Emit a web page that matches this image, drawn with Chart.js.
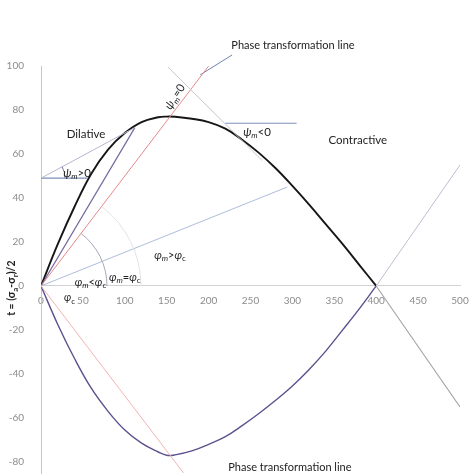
<!DOCTYPE html>
<html>
<head>
<meta charset="utf-8">
<script src="https://cdn.jsdelivr.net/npm/chart.js@4.4.1/dist/chart.umd.min.js"></script>
<style>
  html, body { margin: 0; padding: 0; background: #fff; }
</style>
</head>
<body>
<canvas id="chart" width="474" height="474"></canvas>
<script>
// stress path (upper = compression, lower = extension)
const CURVE_X = [0, 20, 40, 60, 80, 100, 120, 140, 150, 160, 180, 200, 220, 240, 260, 280, 300, 320, 340, 360, 380, 400];
const UPPER_T = [0, 19, 36, 51, 62, 69.5, 74.5, 76.7, 77, 76.9, 76, 74.5, 71.5, 66.5, 60.5, 53.5, 45.5, 37, 28, 19, 9.5, 0];
const LOWER_T = [0, -17.5, -33, -46.5, -57, -65.5, -71.5, -75.5, -77, -76.8, -75, -72, -68.5, -63.5, -58, -52, -45.5, -38, -29.5, -20, -10.3, 0];

// straight construction lines, [x, t] end points
const PTL_UPPER = [[0, 0], [200, 100]];
const PTL_LOWER = [[0, 0], [170, -85]];
const DILATIVE_CHORD = [[0, 0], [112, 72]];
const DILATIVE_TANGENT = [[0, 49], [112, 72]];
const DILATIVE_LEVEL = [[0, 49], [56, 49]];
const CONTRACTIVE_TANGENT = [[151.5, 99.5], [264, 57]];
const CONTRACTIVE_LEVEL = [[220, 74], [305, 74]];
const PHI_LINE = [[0, 0], [294, 45]];
const TAIL_UP = [[400, 0], [500, 55]];
const TAIL_DOWN = [[400, 0], [500, -55]];
const LEADER = [[228, 105], [190, 96]];

const X_TICKS = [0, 50, 100, 150, 200, 250, 300, 350, 400, 450, 500];
const Y_TICKS = [-80, -60, -40, -20, 0, 20, 40, 60, 80, 100];

const FAM = 'Lato, "Open Sans", sans-serif';

const pts = (arr) => arr.map(([x, y]) => ({ x, y }));
const curve = (ys) => CURVE_X.map((x, i) => ({ x, y: ys[i] }));

function seg(data, color, width, extra) {
  return Object.assign({ data: pts(data), showLine: true, pointRadius: 0, borderColor: color, borderWidth: width, fill: false }, extra || {});
}

// text with italic greek letters and subscripts
function drawRich(ctx, parts, x, y, size, color, rot, weight) {
  ctx.save();
  ctx.translate(x, y);
  ctx.rotate(rot || 0);
  const w = weight || 'normal';
  const fontFor = (k) => k === 'sub' ? `italic ${w} ${Math.round(size * 0.72)}px ${FAM}` :
    k === 'subr' ? `${w} ${Math.round(size * 0.72)}px ${FAM}` :
    k === 'it' ? `italic ${w} ${size}px ${FAM}` : `${w} ${size}px ${FAM}`;
  let total = 0;
  parts.forEach(([t, k]) => { ctx.font = fontFor(k); total += ctx.measureText(t).width; });
  let cx = -total / 2;
  ctx.fillStyle = color;
  ctx.textBaseline = 'middle';
  ctx.textAlign = 'left';
  parts.forEach(([t, k]) => {
    ctx.font = fontFor(k);
    ctx.fillText(t, cx, (k === 'sub' || k === 'subr') ? size * 0.3 : 0);
    cx += ctx.measureText(t).width;
  });
  ctx.restore();
}

const LABELS = [
  { at: [300.7, 109.5], parts: [['Phase transformation line', '']], size: 11 },
  { at: [297, -82.3], parts: [['Phase transformation line', '']], size: 11 },
  { at: [378, 66], parts: [['Contractive', '']], size: 11.5 },
  { at: [53.7, 69], parts: [['Dilative', '']], size: 11.5 },
  { at: [160, 86], parts: [['ψ', 'it'], ['m', 'sub'], ['=0', '']], size: 11.5, rot: -58 },
  { at: [43, 51.4], parts: [['ψ', 'it'], ['m', 'sub'], ['>0', '']], size: 11.5 },
  { at: [257.8, 70], parts: [['ψ', 'it'], ['m', 'sub'], ['<0', '']], size: 11.5 },
  { at: [154, 14], parts: [['φ', 'it'], ['m', 'sub'], ['>', ''], ['φ', 'it'], ['c', 'subr']], size: 11 },
  { at: [100, 4], parts: [['φ', 'it'], ['m', 'sub'], ['=', ''], ['φ', 'it'], ['c', 'subr']], size: 11 },
  { at: [59, 1.6], parts: [['φ', 'it'], ['m', 'sub'], ['<', ''], ['φ', 'it'], ['c', 'subr']], size: 11 },
  { at: [34, -5.5], parts: [['φ', 'it'], ['c', 'subr']], size: 10.5 },
];

function angleOf(line, xs, ys) {
  const x1 = xs.getPixelForValue(line[0][0]), y1 = ys.getPixelForValue(line[0][1]);
  const x2 = xs.getPixelForValue(line[1][0]), y2 = ys.getPixelForValue(line[1][1]);
  return Math.atan2(y1 - y2, x2 - x1);
}

const annotations = {
  id: 'annotations',
  afterDatasetsDraw(chart) {
    const { ctx, scales: { x: xs, y: ys } } = chart;
    const arc = (center, r, a, color, width) => {
      ctx.save();
      ctx.beginPath();
      ctx.strokeStyle = color;
      ctx.lineWidth = width;
      ctx.arc(xs.getPixelForValue(center[0]), ys.getPixelForValue(center[1]), r, -a, 0);
      ctx.stroke();
      ctx.restore();
    };
    const aPtl = angleOf(PTL_UPPER, xs, ys);
    arc([0, 0], 100, aPtl, '#e2e2ea', 1);
    arc([0, 0], 66, aPtl, '#a9a9ba', 1);
    arc(DILATIVE_LEVEL[0], 24, angleOf(DILATIVE_TANGENT, xs, ys), '#6d7fb0', 1);

    LABELS.forEach(l => {
      drawRich(ctx, l.parts, xs.getPixelForValue(l.at[0]), ys.getPixelForValue(l.at[1]),
        l.size, '#222', (l.rot || 0) * Math.PI / 180);
    });

    // y axis title
    const tx = chart.chartArea.left - 29, ty = ys.getPixelForValue(-1);
    drawRich(ctx, [['t = (σ', ''], ['a', 'subr'], ['-σ', ''], ['r', 'subr'], [')/2', '']], tx, ty, 10.5, '#222', -Math.PI / 2, 'bold');
  }
};

new Chart(document.getElementById('chart'), {
  type: 'scatter',
  data: {
    datasets: [
      seg(PHI_LINE, '#aebcda', 1),
      seg(CONTRACTIVE_TANGENT, '#c6c6d2', 1),
      seg(CONTRACTIVE_LEVEL, '#7f91ba', 1.1),
      seg(DILATIVE_TANGENT, '#b9b5cd', 1),
      seg(DILATIVE_LEVEL, '#7d8fb8', 1.1),
      seg(PTL_UPPER, '#e58a8a', 1),
      seg(PTL_LOWER, '#f2b4b4', 1),
      seg(TAIL_UP, '#c2bbd2', 1),
      seg(TAIL_DOWN, '#a3a3a3', 1.1),
      seg(LEADER, '#7282b2', 1, { clip: false }),
      seg(DILATIVE_CHORD, '#76679f', 1.2),
      { data: curve(LOWER_T), showLine: true, pointRadius: 0, borderColor: '#5e4f8e', borderWidth: 1.4, tension: 0.4 },
      { data: curve(UPPER_T), showLine: true, pointRadius: 0, borderColor: '#161616', borderWidth: 1.9, tension: 0.4 },
    ]
  },
  options: {
    responsive: false,
    animation: false,
    devicePixelRatio: 1,
    layout: { padding: { top: 66, right: 14, bottom: 0, left: 0 } },
    plugins: { legend: { display: false }, tooltip: { enabled: false } },
    scales: {
      x: {
        type: 'linear', min: 0, max: 500,
        position: { y: 0 },
        grid: { display: false },
        border: { color: '#d2d2d2', width: 1 },
        ticks: { color: '#8c8c8c', font: { family: FAM, size: 10 }, padding: 1 },
        afterBuildTicks: (s) => { s.ticks = X_TICKS.map(v => ({ value: v })); },
        afterFit: (s) => { s.paddingLeft = 0; s.paddingRight = 0; }
      },
      y: {
        type: 'linear', min: -85.5, max: 100,
        grid: { display: false },
        border: { color: '#c6c6c6', width: 1 },
        ticks: { color: '#8c8c8c', font: { family: FAM, size: 10 }, padding: 9 },
        afterBuildTicks: (s) => { s.ticks = Y_TICKS.map(v => ({ value: v })); },
        afterFit: (s) => { s.width = 41; s.paddingTop = 0; s.paddingBottom = 0; }
      }
    }
  },
  plugins: [annotations]
});
</script>
</body>
</html>
